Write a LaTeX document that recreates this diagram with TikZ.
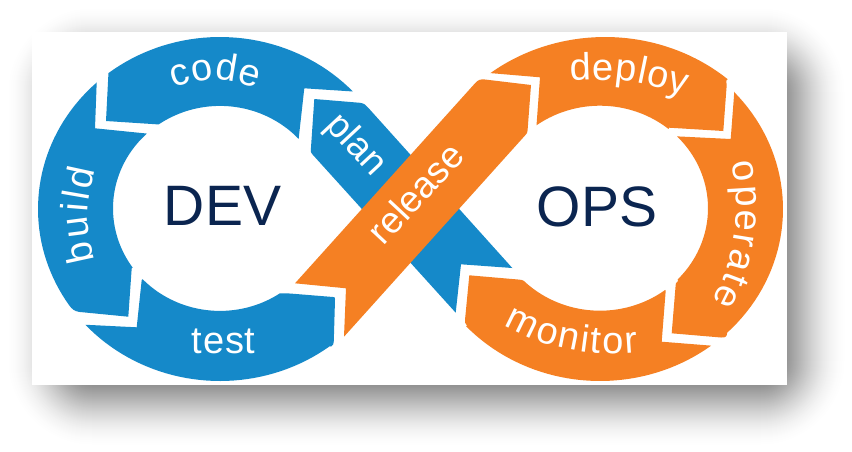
\documentclass[tikz,border=0pt]{standalone}
\usepackage{fontspec}
\setmainfont{Liberation Sans}
\usetikzlibrary{decorations.text}
\definecolor{devblue}{HTML}{1589C9}
\definecolor{opsorange}{HTML}{F58023}
\definecolor{navy}{HTML}{0B2550}
\newcommand\wordfont{\fontsize{38}{38}\selectfont}
\tikzset{
  devband/.style={fill=devblue},
  opsband/.style={fill=opsorange},
  seg/.style={samples=40,variable=\t},
  bigword/.style={text=navy,font=\fontsize{57}{57}\selectfont,anchor=base,inner sep=0pt},
  word/.style={text=white,font=\wordfont,anchor=base,inner sep=0pt},
  curvedword/.style={decorate,decoration={text along path,text={|\wordfont|#1},text color=white,text align=fit to path}}
}
\begin{document}
\begin{tikzpicture}[x=1pt,y=-1pt]
\useasboundingbox (0,0) rectangle (852,451);
\fill[white] (0,0) rectangle (852,451);
% soft shadow: nested opaque greys, lightest outside
\foreach \d in {0,...,80}{
  \pgfmathsetmacro\k{62*(1-cos(1.8*\d))/2}
  \pgfmathsetmacro\r{88-\d}
  \fill[black!\k!white,rounded corners=\r pt] ({5+\d},{5+\d}) rectangle ({848-\d},{448-\d});
}
\fill[white] (32,32) rectangle (787,385);
% DEV loop
\fill[devband] plot[seg,domain=-127.8:-43.1] ({220+182*cos(\t)},{209+172*sin(\t)}) -- (304.3,88.3) -- plot[seg,domain=-42.7:-125] ({220+107*cos(\t)},{208.4+102.5*sin(\t)}) -- (106,121) -- cycle;
\fill[devband] (96.7,82.3) -- plot[seg,domain=227.4:146] ({220+182*cos(\t)},{209+172*sin(\t)}) .. controls (72,309) and (74,311) .. (79,311.9) -- (128.3,316.7) -- (131.7,268.3) -- plot[seg,domain=144.7:226.9] ({220+107*cos(\t)},{208.4+102.5*sin(\t)}) -- (95,128.3) -- cycle;
\fill[devband] (141.7,280) -- plot[seg,domain=136.3:56] ({220+107*cos(\t)},{208.4+102.5*sin(\t)}) .. controls (285,292.5) .. (290,293.5) -- (333,297) .. controls (335,297.3) .. (335,299.5) -- (333.8,341) .. controls (333.5,344.5) .. (331,346.5) -- plot[seg,domain=53:137.7] ({220+182*cos(\t)},{209+172*sin(\t)}) -- (136.7,327.3) -- cycle;
% plan band, passing under release
\fill[devband] (314.3,99) -- (360,102.8) .. controls (364,103.3) and (366,105) .. (368,107.5) -- (512.3,268) -- (461,264.3) -- (455.7,312.7) -- (313,155) .. controls (310.7,152.5) .. (310.9,149) -- cycle;
% release band
\fill[opsband] (295,283.3) -- (475,83.3) .. controls (478,80) and (480,79) .. (485,79.5) -- (531,85) -- (527.6,130) .. controls (527.3,133) .. (525,135.5) -- (344,336.7) -- (346,288.3) -- cycle;
% OPS loop
\fill[opsband] plot[seg,domain=-127.8:-49] ({605+187*cos(\t)},{209+172*sin(\t)}) .. controls (726,80) .. (726.7,85) -- (723.3,131) -- (669.3,127.7) -- plot[seg,domain=-50.7:-126] ({600+108*cos(\t)},{208.2+102.5*sin(\t)}) -- (540,77.3) -- cycle;
\fill[opsband] (730.7,139) -- (734.3,91.7) -- plot[seg,domain=-42.9:46] ({600+183*cos(\t)},{209+172*sin(\t)}) .. controls (727,336) and (726,338) .. (721,337.5) -- (671.7,333.3) -- (675.5,287) .. controls (675.8,283) .. (678,281) -- plot[seg,domain=44:-44.5] ({600+108*cos(\t)},{208.2+102.5*sin(\t)}) -- cycle;
\fill[opsband] (665.7,290.7) -- plot[seg,domain=52.9:133] ({600+108*cos(\t)},{208.2+102.5*sin(\t)}) .. controls (523,280) .. (518,279.5) -- (469.3,275.3) -- (465,320) .. controls (465,323) .. (467,325.5) -- plot[seg,domain=137:52.6] ({600+183*cos(\t)},{209+172*sin(\t)}) -- (661.7,341.7) -- cycle;
% straight words
\node[bigword] (dev) at (222.5,225) {DEV};
\node[bigword] (ops) at (597,226) {OPS};
\node[word] (test) at (223.7,353.3) {\addfontfeature{LetterSpace=2}test};
\node[word,rotate=-47,font=\fontsize{37}{37}\selectfont] (plan) at (348.3,151.7) {plan};
\node[word,rotate=47,font=\fontsize{37}{37}\selectfont] (release) at (425,202) {release};
% curved words
\path[curvedword={code}] (174,88) .. controls (215,76) .. (257,88);
\path[curvedword={build}] (95,260) .. controls (85,215) .. (95,170);
\path[curvedword={deploy}] (570,81) .. controls (625,79) .. (685,95);
\path[curvedword={operate}] (731,163) .. controls (741,205) and (738,255) .. (712,301);
\path[curvedword={monitor}] (504,325) .. controls (530,343) and (585,358) .. (638,353);
\end{tikzpicture}
\end{document}
